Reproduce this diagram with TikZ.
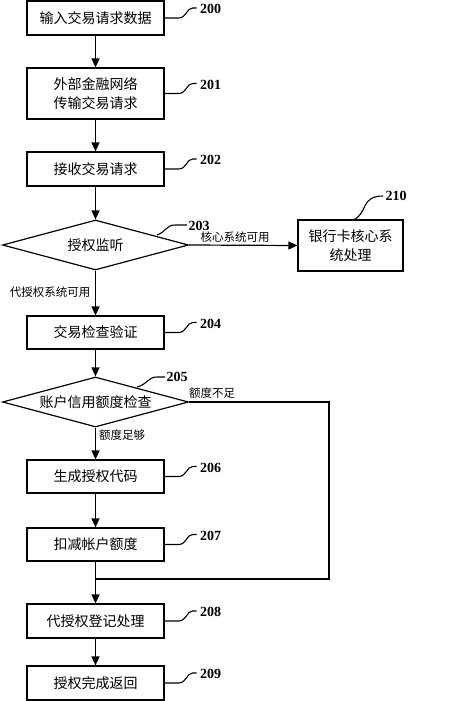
\documentclass[tikz,border=0pt]{standalone}
\usepackage{fontspec}
\setmainfont{Liberation Serif}
\newfontfamily\cjk{Noto Sans CJK SC}
\usetikzlibrary{shapes.geometric,arrows.meta}
\begin{document}
\begin{tikzpicture}[x=1pt,y=-1pt,
  box/.style={draw,line width=1.2pt,minimum width=137pt,inner sep=0pt,align=center,font=\cjk\fontsize{14}{19}\selectfont},
  dia/.style={draw,line width=1.2pt,shape=diamond,aspect=3.7,minimum width=186pt,minimum height=50pt,inner sep=0pt,font=\cjk\fontsize{14}{17}\selectfont},
  lbl/.style={font=\cjk\fontsize{11.5}{14}\selectfont,inner sep=0pt},
  num/.style={font=\bfseries\fontsize{14}{16}\selectfont,inner sep=0pt},
  arr/.style={-{Triangle[length=9pt,width=8pt]},line width=1.2pt},
  lead/.style={line width=1.1pt}
]
\useasboundingbox (0,0) rectangle (474,701);

\node[box,minimum height=34pt] (b200) at (95.5,18) {输入交易请求数据};
\node[box,minimum height=51pt] (b201) at (95.5,93.5) {外部金融网络\\传输交易请求};
\node[box,minimum height=34pt] (b202) at (95.5,169) {接收交易请求};
\node[dia] (d203) at (95.5,245) {授权监听};
\node[box,minimum width=105pt,minimum height=51pt] (b210) at (350.5,245.5) {银行卡核心系\\统处理};
\node[box,minimum height=33pt] (b204) at (95.5,332.5) {交易检查验证};
\node[dia] (d205) at (95.5,402) {账户信用额度检查};
\node[box,minimum height=33pt] (b206) at (95.5,476.5) {生成授权代码};
\node[box,minimum height=33pt] (b207) at (95.5,544.5) {扣减帐户额度};
\node[box,minimum height=34pt] (b208) at (95.5,621) {代授权登记处理};
\node[box,minimum height=34pt] (b209) at (95.5,683) {授权完成返回};

% connectors
\draw[arr] (b200.south) -- (b201.north);
\draw[arr] (b201.south) -- (b202.north);
\draw[arr] (b202.south) -- (d203.north);
\draw[arr] (d203.east) -- (b210.west);
\draw[arr] (d203.south) -- (b204.north);
\draw[arr] (b204.south) -- (d205.north);
\draw[arr] (d205.south) -- (b206.north);
\draw[arr] (b206.south) -- (b207.north);
\coordinate (j) at (b207.south |- 0,579);
\draw[arr] (b207.south) -- (b208.north);
\draw[arr] (b208.south) -- (b209.north);
\coordinate (r1) at (329,402);
\coordinate (r2) at (329,579);
\draw[line width=1.2pt] (d205.east) -- (r1) -- (r2) -- (j);

% edge labels
\node[lbl] (l1) at (235,237) {核心系统可用};
\node[lbl] (l2) at (50,292) {代授权系统可用};
\node[lbl] (l3) at (212,393) {额度不足};
\node[lbl] (l4) at (122,435) {额度足够};

% reference numbers
\foreach \b/\n in {b200/200,b201/201,b202/202,b204/204,b206/206,b207/207,b208/208,b209/209}{
  \draw[lead] (\b.east) -- ++(14,0) .. controls +(8,0) and +(-6,0) .. ++(14,-10) -- ++(4,0);
  \node[num] (n\n) at ([xshift=46pt,yshift=9pt]\b.east) {\n};
}
\coordinate (c203) at (157,235);
\draw[lead] (c203) .. controls (166,232) and (166,225) .. (175,225) -- (187,225);
\node[num] (n203) at (199,226) {203};
\coordinate (c205) at (137,387);
\draw[lead] (c205) .. controls (148,384) and (148,377) .. (157,377) -- (165,377);
\node[num] (n205) at (177,377) {205};
\coordinate (c210) at (353,220);
\draw[lead] (c210) .. controls (368,214) and (360,196) .. (383,196);
\node[num] (n210) at (396,196) {210};
\end{tikzpicture}
\end{document}
